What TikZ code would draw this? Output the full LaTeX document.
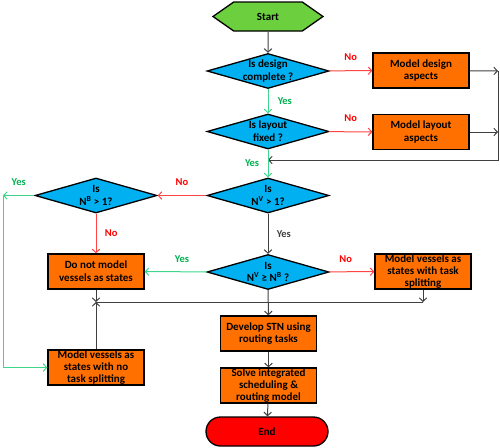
\documentclass[tikz,border=0pt]{standalone}
\usepackage{fontspec}
\setmainfont{Carlito}
\usetikzlibrary{arrows.meta, shapes.geometric, shapes.misc, shapes.symbols}

\definecolor{hexgreen}{HTML}{6CCF3E}
\definecolor{qblue}{HTML}{00B0F0}
\definecolor{boxorange}{HTML}{FF7000}
\definecolor{endred}{HTML}{FF0000}
\definecolor{yesgreen}{HTML}{00B050}
\definecolor{yesline}{HTML}{3DD68C}
\definecolor{nored}{HTML}{FF4444}
\definecolor{linegray}{HTML}{404040}

\tikzset{
  boxfont/.style={font=\bfseries\fontsize{11}{12.8}\selectfont},
  tightfont/.style={font=\bfseries\fontsize{11}{12.2}\selectfont},
  question/.style={diamond, draw=black, fill=qblue, line width=1.3pt, minimum width=122pt, minimum height=35pt, inner sep=0pt},
  qtext/.style={boxfont, align=center, inner sep=0pt},
  task/.style={rectangle, draw=black, fill=boxorange, line width=1.3pt, minimum width=96pt, minimum height=35pt, align=center, inner sep=0pt, boxfont},
  flow/.style={->, draw=linegray, line width=1pt},
  yesflow/.style={->, draw=yesline, line width=1pt},
  noflow/.style={->, draw=nored, line width=1pt},
  yeslabel/.style={text=yesgreen, font=\bfseries\fontsize{10.5}{12}\selectfont},
  nolabel/.style={text=endred, font=\bfseries\fontsize{10.5}{12}\selectfont},
}

\begin{document}
\begin{tikzpicture}[x=1pt, y=-1pt, >={Straight Barb[length=3.5pt,width=7.5pt]}]
\useasboundingbox (0,0) rectangle (500,447);

% Terminals
\node[signal, signal to=west and east, signal pointer angle=70, draw=black, fill=hexgreen, line width=1.3pt, minimum width=110pt, minimum height=29pt, inner sep=0pt, boxfont] (start) at (268,16.5) {Start};
\node[rounded rectangle, draw=black, fill=endred, line width=1.3pt, minimum width=122pt, minimum height=29pt, inner sep=0pt, boxfont] (end) at (267,431.5) {End};

% Decisions
\node[question, label={[qtext]center:Is design\\complete ?}] (design) at (268,71) {};
\node[question, label={[qtext]center:Is layout\\fixed ?}] (layout) at (268,131.5) {};
\node[question, label={[qtext]center:Is\\N\textsuperscript{V} > 1?}] (nv) at (268,195.5) {};
\node[question, label={[qtext]center:Is\\N\textsuperscript{B} > 1?}] (nb) at (96,195.5) {};
\node[question, label={[qtext]center:Is\\N\textsuperscript{V} ≥ N\textsuperscript{B} ?}] (nvnb) at (268,272) {};

% Tasks
\node[task] (mdesign) at (421,70.5) {Model design\\aspects};
\node[task] (mlayout) at (421,132) {Model layout\\aspects};
\node[task] (donot) at (96,271.5) {Do not model\\vessels as states};
\node[task, tightfont] (split) at (423,271.5) {Model vessels as\\states with task\\splitting};
\node[task, tightfont] (nosplit) at (96,367.5) {Model vessels as\\states with no\\task splitting};
\node[task] (develop) at (268.5,333.5) {Develop STN using\\routing tasks};
\node[task, tightfont] (solve) at (268.5,385.5) {Solve integrated\\scheduling \&\\routing model};

% Corner points
\coordinate (rtop) at (498,71);
\coordinate (rmid) at (498,132);
\coordinate (rbot) at (498,160);
\coordinate (back) at (268,160);
\coordinate (ltop) at (3,195.5);
\coordinate (lbot) at (3,367.5);
\coordinate (mleft) at (96,302);
\coordinate (mright) at (423,302);

% Upper part
\draw[flow] (start) -- (design);
\draw[noflow] (design) -- (mdesign) node[nolabel, midway, above=6pt] (no1) {No};
\draw[yesflow] (design) -- (layout) node[yeslabel, midway, right=6pt] (yes1) {Yes};
\draw[noflow] (layout) -- (mlayout) node[nolabel, midway, above=6pt] (no2) {No};
\draw[flow] (mdesign) -- (rtop);
\draw[flow] (mlayout) -- (rmid);
\draw[flow] (rtop) -- (rbot) -- (back);
\draw[yesflow] (layout) -- (nv) node[yeslabel, midway, left=5pt] (yes2) {Yes};

% Middle part
\draw[noflow] (nv) -- (nb) node[nolabel, midway, above=6pt] (no3) {No};
\draw[yesflow] (nb) -- (ltop) node[yeslabel, midway, above=6pt] (yes3) {Yes};
\draw[yesflow] (ltop) -- (lbot) -- (nosplit);
\draw[noflow] (nb) -- (donot) node[nolabel, midway, right=5pt] (no4) {No};
\draw[flow] (nv) -- (nvnb) node[midway, right=5pt, text=linegray, font=\bfseries\fontsize{10.5}{12}\selectfont] (yes4) {Yes};
\draw[yesflow] (nvnb) -- (donot) node[yeslabel, pos=0.4, above=5pt] (yes5) {Yes};
\draw[noflow] (nvnb) -- (split) node[nolabel, pos=0.37, above=5pt] (no5) {No};

% Merge and lower part
\draw[flow] (donot) -- (mleft);
\draw[flow] (nosplit) -- (mleft);
\draw[flow] (split) -- (mright);
\draw[flow, -] (mleft) -- (mright);
\draw[flow] (nvnb) -- (develop);
\draw[flow] (develop) -- (solve);
\draw[flow] (solve) -- (end);
\end{tikzpicture}
\end{document}
